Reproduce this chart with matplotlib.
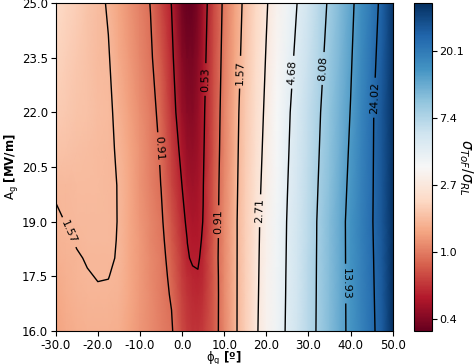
import numpy as np
import matplotlib
matplotlib.use('Agg')
import matplotlib.pyplot as plt
from matplotlib.ticker import FormatStrFormatter

# grid: gun phase [deg] x gun amplitude [MV/m]
phi = [-30, -27.5, -25, -22.5, -20, -17.5, -15, -12.5, -10, -7.5, -5, -2.5, 0, 1.25, 2.5, 3.75, 5, 7.5,
       10, 12.5, 15, 17.5, 20, 22.5, 25, 27.5, 30, 32.5, 35, 37.5, 40, 42.5, 45, 47.5, 50]
amp = [16, 17, 17.5, 18, 18.5, 19, 20, 21, 22, 23.5, 25]

# ln(sigma_ToF / sigma_RL), one row per amplitude
ln_a16 = [0.28, 0.34, 0.38, 0.40, 0.405, 0.40, 0.38, 0.289, 0.197, 0.106, 0.014, -0.06, -0.35, -0.45, -0.50, -0.51, -0.45, -0.23,
          0.082, 0.392, 0.676, 0.954, 1.175, 1.384, 1.588, 1.772, 1.956, 2.143, 2.335, 2.526, 2.721, 2.918, 3.116, 3.313, 3.7241]
ln_a17 = [0.33, 0.38, 0.415, 0.437, 0.445, 0.44, 0.41, 0.32, 0.21, 0.104, -0.003, -0.115, -0.40, -0.50, -0.565, -0.585, -0.52, -0.24,
          0.085, 0.392, 0.670, 0.941, 1.164, 1.373, 1.578, 1.764, 1.950, 2.138, 2.333, 2.527, 2.726, 2.927, 3.129, 3.329, 3.716]
ln_a175 = [0.36, 0.40, 0.43, 0.448, 0.457, 0.456, 0.43, 0.33, 0.212, 0.099, 0.0, -0.15, -0.44, -0.545, -0.605, -0.62, -0.55, -0.235,
           0.086, 0.392, 0.668, 0.935, 1.158, 1.368, 1.574, 1.760, 1.947, 2.136, 2.332, 2.528, 2.728, 2.931, 3.135, 3.338, 3.712]
ln_a18 = [0.39, 0.42, 0.445, 0.46, 0.466, 0.462, 0.448, 0.33, 0.215, 0.10, -0.01, -0.19, -0.465, -0.62, -0.66, -0.663, -0.58, -0.221,
          0.087, 0.392, 0.665, 0.929, 1.152, 1.362, 1.569, 1.756, 1.943, 2.134, 2.331, 2.529, 2.730, 2.935, 3.141, 3.346, 3.708]
ln_a185 = [0.41, 0.44, 0.462, 0.475, 0.478, 0.47, 0.448, 0.324, 0.20, 0.077, -0.03, -0.23, -0.514, -0.64, -0.695, -0.69, -0.61, -0.235,
           0.089, 0.392, 0.662, 0.922, 1.147, 1.357, 1.564, 1.752, 1.940, 2.131, 2.330, 2.529, 2.733, 2.940, 3.148, 3.354, 3.704]
ln_a19 = [0.43, 0.458, 0.475, 0.485, 0.485, 0.47, 0.45, 0.322, 0.193, 0.065, -0.05, -0.28, -0.563, -0.683, -0.735, -0.718, -0.63, -0.247,
          0.090, 0.393, 0.659, 0.916, 1.141, 1.351, 1.559, 1.748, 1.937, 2.129, 2.329, 2.530, 2.735, 2.944, 3.154, 3.362, 3.70]
ln_a20 = [0.475, 0.485, 0.49, 0.49, 0.487, 0.476, 0.448, 0.313, 0.178, 0.043, -0.095, -0.364, -0.64, -0.767, -0.81, -0.767, -0.645, -0.258,
          0.075, 0.380, 0.642, 0.889, 1.114, 1.326, 1.537, 1.727, 1.915, 2.106, 2.303, 2.502, 2.705, 2.925, 3.146, 3.366, 3.69]
ln_a21 = [0.58, 0.56, 0.54, 0.52, 0.50, 0.472, 0.44, 0.30, 0.161, 0.021, -0.12, -0.42, -0.734, -0.861, -0.887, -0.822, -0.67, -0.284,
          0.060, 0.367, 0.625, 0.862, 1.086, 1.301, 1.514, 1.707, 1.894, 2.082, 2.278, 2.475, 2.674, 2.906, 3.138, 3.371, 3.68]
ln_a22 = [0.64, 0.61, 0.58, 0.55, 0.515, 0.49, 0.40, 0.264, 0.128, -0.007, -0.16, -0.495, -0.841, -0.943, -0.953, -0.869, -0.693, -0.304,
          0.045, 0.354, 0.608, 0.835, 1.059, 1.276, 1.492, 1.686, 1.872, 2.059, 2.252, 2.447, 2.644, 2.887, 3.130, 3.375, 3.67]
ln_a235 = [0.72, 0.665, 0.61, 0.55, 0.50, 0.469, 0.338, 0.207, 0.076, -0.055, -0.25, -0.569, -0.968, -1.06, -1.055, -0.95, -0.746, -0.338,
           0.012, 0.311, 0.571, 0.796, 1.016, 1.226, 1.430, 1.623, 1.812, 2.001, 2.196, 2.398, 2.601, 2.837, 3.078, 3.320, 3.655]
ln_a25 = [0.80, 0.73, 0.66, 0.58, 0.51, 0.432, 0.30, 0.168, 0.036, -0.10, -0.37, -0.645, -1.097, -1.1818, -1.154, -1.032, -0.807, -0.372,
          -0.022, 0.268, 0.534, 0.757, 0.972, 1.175, 1.367, 1.559, 1.751, 1.943, 2.139, 2.349, 2.558, 2.787, 3.026, 3.265, 3.64]

cbar_ticks = [-1, 0, 1, 2, 3]

z = np.array([ln_a16, ln_a17, ln_a175, ln_a18, ln_a185, ln_a19, ln_a20, ln_a21, ln_a22, ln_a235, ln_a25])

fig = plt.figure(figsize=(4.74, 3.64), dpi=100)
ax = fig.add_axes([0.1175, 0.0907, 0.711, 0.9011])
cax = fig.add_axes([0.8734, 0.0907, 0.0374, 0.9011])

mesh = ax.pcolormesh(phi, amp, z, cmap='RdBu', shading='gouraud')
levels = np.linspace(z.min(), z.max(), 10)
cs = ax.contour(phi, amp, z, levels=levels[1:-1], colors='k', linewidths=1.0,
                linestyles='solid', negative_linestyles='solid')
label_pos = [(5.85, 22.9), (14.0, 23.1), (26.4, 23.1), (33.9, 23.2), (45.8, 22.4),
             (-6.0, 21.0), (8.4, 19.0), (18.1, 19.3), (38.7, 17.3), (-27.0, 18.7)]
ax.clabel(cs, fmt=lambda v: f'{np.exp(v):.2f}', fontsize=8, manual=label_pos, inline_spacing=4)

ax.set_xlim(-30, 50)
ax.set_ylim(16, 25)
ax.set_xticks(np.arange(-30, 51, 10))
ax.set_yticks(np.arange(16, 25.1, 1.5))
ax.xaxis.set_major_formatter(FormatStrFormatter('%.1f'))
ax.yaxis.set_major_formatter(FormatStrFormatter('%.1f'))
ax.tick_params(labelsize=8.5, pad=2)
ax.set_xlabel(r'$\mathrm{\phi_g}$ [º]', fontweight='bold', fontsize=8.5, labelpad=-1)
ax.set_ylabel(r'$\mathrm{A_g}$ [MV/m]', fontweight='bold', fontsize=8.5, labelpad=1)

cb = fig.colorbar(mesh, cax=cax, ticks=cbar_ticks)
cb.ax.set_yticklabels([f'{np.exp(t):.1f}' for t in cbar_ticks])
cb.ax.tick_params(labelsize=8, pad=2)
cb.set_label(r'$\sigma_{ToF}/\sigma_{RL}$', rotation=270, fontsize=10.5, labelpad=8)

fig.savefig('out.png', dpi=100)
